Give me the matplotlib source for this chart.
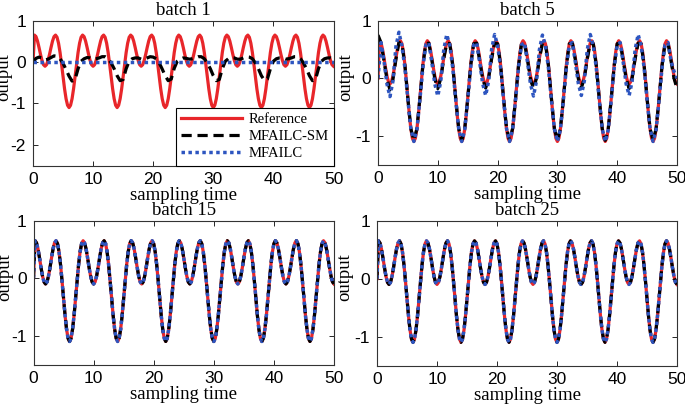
import numpy as np
import matplotlib
matplotlib.use("Agg")
import matplotlib.pyplot as plt

plt.rcParams["axes.unicode_minus"] = False

# ---------------- data ----------------
t_fine = np.arange(0, 50.25, 0.25)    # 201 samples
t_coarse = np.arange(0, 50.5, 0.5)    # 101 samples

reference = [
    0.000, 0.652, 0.615, 0.508, 0.354, 0.186, 0.038, -0.064,
    -0.100, -0.064, 0.038, 0.186, 0.354, 0.508, 0.615, 0.652,
    0.600, 0.456, 0.233, -0.048, -0.354, -0.646, -0.886, -1.044,
    -1.100, -1.044, -0.886, -0.646, -0.354, -0.048, 0.233, 0.456,
    0.600, 0.652, 0.615, 0.508, 0.354, 0.186, 0.038, -0.064,
    -0.100, -0.064, 0.038, 0.186, 0.354, 0.508, 0.615, 0.652,
    0.600, 0.456, 0.233, -0.048, -0.354, -0.646, -0.886, -1.044,
    -1.100, -1.044, -0.886, -0.646, -0.354, -0.048, 0.233, 0.456,
    0.600, 0.652, 0.615, 0.508, 0.354, 0.186, 0.038, -0.064,
    -0.100, -0.064, 0.038, 0.186, 0.354, 0.508, 0.615, 0.652,
    0.600, 0.456, 0.233, -0.048, -0.354, -0.646, -0.886, -1.044,
    -1.100, -1.044, -0.886, -0.646, -0.354, -0.048, 0.233, 0.456,
    0.600, 0.652, 0.615, 0.508, 0.354, 0.186, 0.038, -0.064,
    -0.100, -0.064, 0.038, 0.186, 0.354, 0.508, 0.615, 0.652,
    0.600, 0.456, 0.233, -0.048, -0.354, -0.646, -0.886, -1.044,
    -1.100, -1.044, -0.886, -0.646, -0.354, -0.048, 0.233, 0.456,
    0.600, 0.652, 0.615, 0.508, 0.354, 0.186, 0.038, -0.064,
    -0.100, -0.064, 0.038, 0.186, 0.354, 0.508, 0.615, 0.652,
    0.600, 0.456, 0.233, -0.048, -0.354, -0.646, -0.886, -1.044,
    -1.100, -1.044, -0.886, -0.646, -0.354, -0.048, 0.233, 0.456,
    0.600, 0.652, 0.615, 0.508, 0.354, 0.186, 0.038, -0.064,
    -0.100, -0.064, 0.038, 0.186, 0.354, 0.508, 0.615, 0.652,
    0.600, 0.456, 0.233, -0.048, -0.354, -0.646, -0.886, -1.044,
    -1.100, -1.044, -0.886, -0.646, -0.354, -0.048, 0.233, 0.456,
    0.600, 0.652, 0.615, 0.508, 0.354, 0.186, 0.038, -0.064,
    -0.100,
]

# batch 1 (coarse grid)
b1_sm = [
    0.00, 0.09, 0.12, 0.10, 0.05, 0.07, 0.11, 0.15, 0.14, 0.08, -0.03, -0.18, -0.34, -0.46, -0.42, -0.16,
    0.02, 0.08, 0.11, 0.10, 0.07, 0.08, 0.10, 0.13, 0.13, 0.08, -0.02, -0.16, -0.33, -0.45, -0.42, -0.16,
    0.02, 0.08, 0.10, 0.10, 0.07, 0.07, 0.10, 0.13, 0.12, 0.08, -0.02, -0.17, -0.33, -0.45, -0.41, -0.15,
    0.02, 0.07, 0.10, 0.09, 0.07, 0.08, 0.10, 0.13, 0.13, 0.08, -0.02, -0.16, -0.33, -0.45, -0.42, -0.16,
    0.02, 0.08, 0.11, 0.10, 0.07, 0.07, 0.10, 0.13, 0.12, 0.08, -0.02, -0.16, -0.33, -0.44, -0.41, -0.16,
    0.02, 0.08, 0.10, 0.10, 0.07, 0.08, 0.10, 0.13, 0.13, 0.08, -0.02, -0.16, -0.33, -0.45, -0.42, -0.16,
    0.02, 0.08, 0.10, 0.10, 0.08,
]
t_b1_mfailc = [0, 10, 20, 30, 40, 50]
b1_mfailc = [0.0, 0.0, 0.0, 0.0, 0.0, 0.0]

# batch 5 (coarse grid)
b5_sm = [
    0.75, 0.62, 0.30, -0.02, -0.20, -0.02, 0.33, 0.62, 0.60, 0.22, -0.36, -0.88, -1.08, -0.88, -0.36, 0.22,
    0.60, 0.61, 0.32, -0.01, -0.18, 0.00, 0.34, 0.61, 0.60, 0.22, -0.36, -0.88, -1.08, -0.88, -0.36, 0.22,
    0.60, 0.61, 0.31, -0.01, -0.17, 0.00, 0.34, 0.61, 0.60, 0.23, -0.36, -0.87, -1.08, -0.88, -0.36, 0.22,
    0.60, 0.61, 0.32, -0.02, -0.18, 0.00, 0.34, 0.61, 0.60, 0.22, -0.36, -0.88, -1.08, -0.88, -0.36, 0.22,
    0.60, 0.61, 0.32, -0.01, -0.17, 0.00, 0.34, 0.61, 0.60, 0.22, -0.36, -0.88, -1.08, -0.88, -0.36, 0.22,
    0.60, 0.61, 0.31, -0.01, -0.18, 0.00, 0.34, 0.61, 0.60, 0.22, -0.36, -0.88, -1.08, -0.88, -0.36, 0.22,
    0.60, 0.61, 0.30, 0.00, -0.18,
]
b5_mfailc = [
    0.00, 0.62, 0.30, -0.10, -0.32, -0.05, 0.55, 0.80, 0.56, 0.18, -0.38, -0.88, -1.10, -0.90, -0.38, 0.18,
    0.58, 0.62, 0.28, -0.10, -0.31, -0.05, 0.50, 0.76, 0.57, 0.18, -0.38, -0.88, -1.10, -0.90, -0.38, 0.18,
    0.58, 0.62, 0.28, -0.09, -0.30, -0.05, 0.50, 0.76, 0.57, 0.18, -0.38, -0.88, -1.10, -0.90, -0.38, 0.18,
    0.58, 0.62, 0.28, -0.10, -0.31, -0.05, 0.50, 0.75, 0.57, 0.18, -0.38, -0.88, -1.10, -0.90, -0.38, 0.18,
    0.58, 0.62, 0.28, -0.09, -0.30, -0.05, 0.50, 0.76, 0.57, 0.18, -0.38, -0.88, -1.10, -0.90, -0.38, 0.18,
    0.58, 0.62, 0.28, -0.10, -0.30, -0.05, 0.50, 0.76, 0.57, 0.18, -0.38, -0.88, -1.10, -0.90, -0.38, 0.18,
    0.58, 0.62, 0.30, 0.12, 0.00,
]

# batches 15 and 25: both controllers coincide with the reference
b15_sm = list(reference)
b15_mfailc = list(reference)
b25_sm = list(reference)
b25_mfailc = list(reference)

titles = ["batch 1", "batch 5", "batch 15", "batch 25"]
legend_labels = ["Reference", "MFAILC-SM", "MFAILC"]
xticks = [0, 10, 20, 30, 40, 50]

# ---------------- style ----------------
RED = "#e8262a"
BLUE = "#2d55c0"
BLACK = "#000000"
SERIF = "Liberation Serif"
SANS = "Liberation Sans"
LW = 2.3

W, H = 685, 404
fig = plt.figure(figsize=(W / 100, H / 100), dpi=100)


def px_axes(x0, y0, x1, y1):
    return fig.add_axes([x0 / W, 1 - y1 / H, (x1 - x0) / W, (y1 - y0) / H])


ax1 = px_axes(33, 20.7, 333.5, 165.5)
ax2 = px_axes(378, 20.7, 677, 164.5)
ax3 = px_axes(33.5, 220.7, 334, 364.5)
ax4 = px_axes(377, 220.7, 677, 365.5)

panels = [
    (ax1, (t_coarse, b1_sm), (t_b1_mfailc, b1_mfailc)),
    (ax2, (t_coarse, b5_sm), (t_coarse, b5_mfailc)),
    (ax3, (t_fine, b15_sm), (t_fine, b15_mfailc)),
    (ax4, (t_fine, b25_sm), (t_fine, b25_mfailc)),
]

handles = None
for i, (ax, sm, mf) in enumerate(panels):
    h1, = ax.plot(t_fine, reference, color=RED, lw=LW, solid_joinstyle="round")
    h2, = ax.plot(sm[0], sm[1], color=BLACK, lw=LW, linestyle=(0, (3.2, 1.8)))
    h3, = ax.plot(mf[0], mf[1], color=BLUE, lw=2.5, linestyle=(0, (1.0, 1.0)))
    if i == 0:
        handles = [h1, h2, h3]
    ax.set_xlim(0, 50)
    ax.set_xticks(xticks)
    if i == 0:
        ax.set_ylim(-2.5, 1)
        ax.set_yticks([-2, -1, 0, 1])
    else:
        ax.set_ylim(-1.5, 1)
        ax.set_yticks([-1, 0, 1])
    ax.tick_params(direction="in", length=3.5, width=0.7, top=True, right=True,
                   labelsize=12.5, pad=5, colors="#262626", labelcolor="black")
    for lab in ax.get_xticklabels() + ax.get_yticklabels():
        lab.set_fontfamily(SANS)
    for s in ax.spines.values():
        s.set_linewidth(0.8)
        s.set_color("#333333")
    ax.set_title(titles[i], fontfamily=SERIF, fontsize=13.5, pad=4)
    ax.set_xlabel("sampling time", fontfamily=SERIF, fontsize=13.5, labelpad=0)
    ax.set_ylabel("output", fontfamily=SERIF, fontsize=13.5)
    ax.yaxis.set_label_coords(-0.068 if i in (0, 2) else -0.078, 0.61)

leg = ax1.legend(handles, legend_labels, loc="lower right", borderaxespad=0,
                 prop={"family": SERIF, "size": 10.5}, frameon=True, fancybox=False,
                 edgecolor="black", framealpha=1, handlelength=4.2,
                 handletextpad=0.4, labelspacing=0.28, borderpad=0.35)
leg.get_frame().set_linewidth(0.8)

fig.savefig("out.png", dpi=100)
